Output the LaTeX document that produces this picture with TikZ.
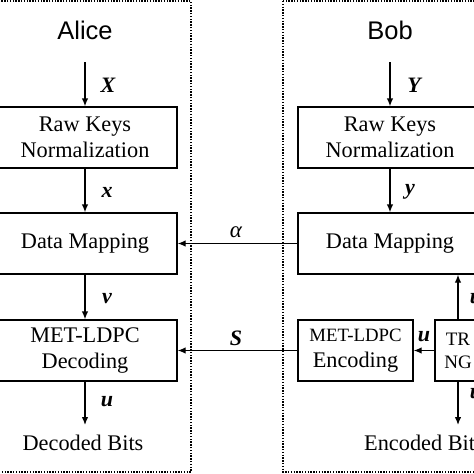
\documentclass[tikz,border=0pt]{standalone}
\usepackage{fontspec}
\setmainfont{Liberation Serif}
\newfontfamily\titlefont{Liberation Sans}
\usetikzlibrary{arrows.meta}
\tikzset{
  blk/.style={draw, line width=1.3pt, minimum height=61pt, inner sep=0pt, align=center, font=\fontsize{22.3}{26.5}\selectfont},
  arr/.style={line width=1.3pt, -{Latex[length=8pt,width=6.5pt]}},
  lbl/.style={font=\fontsize{22}{26}\selectfont\bfseries\itshape, inner sep=0pt},
  ttl/.style={font=\titlefont\fontsize{25.5}{30}\selectfont, inner sep=0pt},
  txt/.style={font=\fontsize{22.3}{26.5}\selectfont, inner sep=0pt},
  party/.style={line width=1.9pt, dash pattern=on 1.4pt off 1.4pt}
}
\begin{document}
\begin{tikzpicture}[x=1pt,y=-1pt]
\useasboundingbox (0,0) rectangle (474,474);
\clip (0,0) rectangle (474,474);
% party frames
\draw[party] (-20,1) rectangle (191,472);
\draw[party] (283,1) rectangle (500,472);
% titles
\node[ttl] (aliceT) at (85,30) {Alice};
\node[ttl] (bobT) at (390,30) {Bob};
% Alice
\coordinate (aXin) at (85,62);
\node[blk, minimum width=184pt] (araw) at (85,137.5) {Raw Keys\\Normalization};
\node[blk, minimum width=184pt] (amap) at (85,243.5) {Data Mapping};
\node[blk, minimum width=184pt] (adec) at (85,350.5) {MET-LDPC\\Decoding};
\coordinate (aend) at (85,425);
\node[txt] (aout) at (83,443) {Decoded Bits};
% Bob
\coordinate (bYin) at (390,62);
\node[blk, minimum width=184pt] (braw) at (390,137.5) {Raw Keys\\Normalization};
\node[blk, minimum width=184pt] (bmap) at (390,243.5) {Data Mapping};
\node[blk, minimum width=115pt] (benc) at (355.5,350.5) {{\fontsize{18.8}{22}\selectfont MET-LDPC}\\Encoding};
\node[blk, minimum width=46pt, font=\fontsize{19}{23}\selectfont] (btrng) at (458,350.5) {TR\\NG};
\coordinate (bend) at (458,425);
\node[txt, anchor=west] (bout) at (364,443) {Encoded Bits};
% Alice arrows
\draw[arr] (aXin) -- (araw.north);
\draw[arr] (araw.south) -- (amap.north);
\draw[arr] (amap.south) -- (adec.north);
\draw[arr] (adec.south) -- (aend);
\node[lbl] (lX) at (108,85) {X};
\node[lbl] (lx) at (107,192) {x};
\node[lbl] (lv) at (107,299) {v};
\node[lbl] (lu) at (107,402) {u};
% Bob arrows
\draw[arr] (bYin) -- (braw.north);
\draw[arr] (braw.south) -- (bmap.north);
\draw[arr] (btrng.west) -- (benc.east);
\draw[arr] (btrng.north) -- (btrng.north |- bmap.south);
\draw[arr] (btrng.south) -- (bend);
\node[lbl] (lY) at (414,85) {Y};
\node[lbl] (ly) at (410,192) {y};
\node[lbl] (lu2) at (424,337) {u};
\node[lbl] (lu3) at (476,299) {u};
\node[lbl] (lu4) at (476,394) {u};
% exchange
\draw[arr] (bmap.west) -- (amap.east);
\draw[arr] (benc.west) -- (adec.east);
\node[txt, font=\fontsize{23}{26}\selectfont\itshape] (lal) at (236,232) {α};
\node[lbl] (lS) at (236,338) {S};
\end{tikzpicture}
\end{document}
